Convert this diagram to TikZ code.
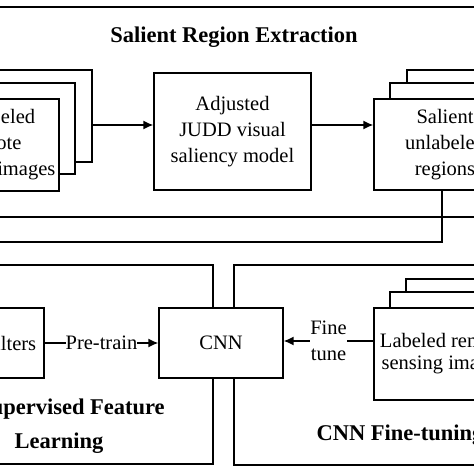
\documentclass[tikz,border=0pt]{standalone}
\usepackage{fontspec}
\setmainfont{Liberation Serif}
\usetikzlibrary{arrows.meta}
\begin{document}
\begin{tikzpicture}[x=1pt,y=-1pt,
  card/.style={draw, fill=white, line width=1.1pt, inner sep=0pt, align=center,
    font=\fontsize{20.5}{26}\selectfont},
  frame/.style={draw, line width=1.6pt},
  arr/.style={line width=1.8pt, -{Latex[length=10pt,width=9pt]}},
  conn/.style={line width=1.8pt},
  ttl/.style={font=\bfseries\fontsize{22.5}{34}\selectfont, align=center, inner sep=0pt},
  lbl/.style={font=\fontsize{20.5}{26}\selectfont, align=center, inner sep=0pt, fill=white}]
\useasboundingbox (0,0) rectangle (474,474);
\clip (0,0) rectangle (474,474);
\fill[white] (0,0) rectangle (474,474);
% frames
\draw[frame] (-20,7) rectangle (494,217);
\draw[frame] (-20,265) rectangle (213,464);
\draw[frame] (234,265) rectangle (494,465);
\node[ttl] (t1) at (234,37) {Salient Region Extraction};
\node[ttl] (t2) at (59,426) {Unsupervised Feature\\Learning};
\node[ttl] (t3) at (400,435) {CNN Fine-tuning};
% left stack
\node[card, minimum width=132pt, minimum height=92pt] (lb) at (26,116) {};
\node[card, minimum width=132pt, minimum height=91pt] (lm) at (9,128.5) {};
\node[card, minimum width=132pt, minimum height=92pt] (lf) at (-7,145) {Unlabeled\\remote\\sensing images};
% middle
\node[card, minimum width=157pt, minimum height=117pt] (sal) at (232.5,131.5) {Adjusted\\JUDD visual\\saliency model};
% right stack
\node[card, minimum width=142pt, minimum height=91pt] (rb) at (478,115.5) {};
\node[card, minimum width=142pt, minimum height=91pt] (rm) at (461,128.5) {};
\node[card, minimum width=142pt, minimum height=91pt] (rf) at (445,144.5) {Salient\\unlabeled\\regions};
\draw[arr] (lb.east |- 0,125) -- (sal.west |- 0,125);
\draw[arr] (sal.east |- 0,125) -- (rf.west |- 0,125);
\coordinate (fb) at (-20,242);
\draw[conn] (rf.south -| 442,0) -- (442,242) -- (fb);
% bottom left
\node[card, minimum width=68pt, minimum height=70pt] (filt) at (10,343) {Filters};
\node[card, minimum width=124pt, minimum height=70pt] (cnn) at (221,343) {CNN};
\draw[arr] (filt.east) -- node[lbl] {Pre-train} (cnn.west);
% bottom right stack
\node[card, minimum width=140pt, minimum height=92pt] (xb) at (476,325) {};
\node[card, minimum width=140pt, minimum height=92pt] (xm) at (460,338) {};
\node[card, minimum width=140pt, minimum height=92pt, font=\fontsize{20.5}{22}\selectfont] (xf) at (444,354) {Labeled remote\\sensing images};
\draw[arr] (xf.west |- 0,341) -- node[lbl] {Fine\\tune} (cnn.east |- 0,341);
\end{tikzpicture}
\end{document}
